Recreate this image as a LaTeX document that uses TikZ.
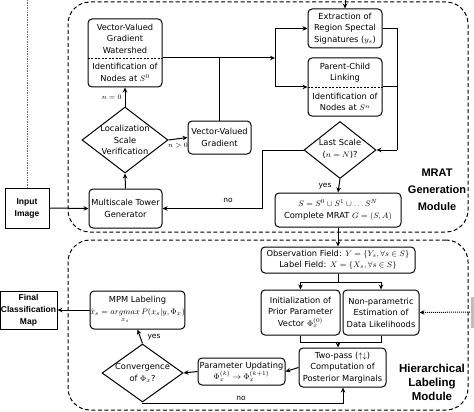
\documentclass[tikz,border=0pt]{standalone}
\usepackage{fontspec}
\setmainfont{DejaVu Sans}
\newfontfamily\hdfont{Liberation Sans}
\usetikzlibrary{shapes.geometric,arrows.meta,calc}
\begin{document}
\begin{tikzpicture}[x=1pt,y=-1pt,
  box/.style={draw, rounded corners=4pt, line width=1pt, align=center, inner sep=0pt, font=\fontsize{8.3}{11.5}\selectfont},
  sq/.style={draw, line width=1pt, align=center, inner sep=0pt, font=\hdfont\bfseries\fontsize{8.5}{12}\selectfont},
  txt/.style={align=center, inner sep=0pt, font=\fontsize{8.3}{11.5}\selectfont},
  dia/.style={draw, diamond, line width=1pt, inner sep=0pt},
  arr/.style={line width=1pt, -{Stealth[length=5pt,width=4.5pt]}},
  ln/.style={line width=1pt},
  divider/.style={line width=0.8pt, dash pattern=on 2pt off 1.5pt},
  module/.style={draw, line width=1pt, dash pattern=on 4pt off 2.5pt, rounded corners=22pt, inner sep=0pt},
  modlabel/.style={align=center, inner sep=0pt, font=\hdfont\bfseries\fontsize{11}{17}\selectfont},
  lbl/.style={inner sep=0pt, font=\fontsize{7.5}{9}\selectfont},
]
\useasboundingbox (0,0) rectangle (474,412);

% modules
\node[module, minimum width=400pt, minimum height=230pt] (mratmod) at (268,117) {};
\node[module, minimum width=400pt, minimum height=170pt] (hlmmod) at (268,325) {};

% ---- MRAT generation module
\node[box, minimum width=74pt, minimum height=68pt] (vvgw) at (125,53) {};
\coordinate (vd) at (125,58);
\draw[divider] (vvgw.west |- vd) -- (vvgw.east |- vd);
\node[txt] (vvgwa) at (125,38.5) {Vector-Valued\\Gradient\\Watershed};
\node[txt] (vvgwb) at (125,72.5) {Identification of\\Nodes at $S^0$};

\node[dia, minimum width=86pt, minimum height=66pt] (loc) at (125,140) {};
\node[txt] (loctxt) at (125,140) {Localization\\Scale\\Verification};

\node[box, minimum width=63pt, minimum height=33pt] (vvg) at (219.5,137.5) {Vector-Valued\\Gradient};
\node[box, minimum width=73pt, minimum height=39pt] (mtg) at (125.5,208.5) {Multiscale Tower\\Generator};
\node[sq, minimum width=44pt, minimum height=40pt] (input) at (27,208) {Input\\Image};

\node[box, minimum width=74pt, minimum height=39pt] (ext) at (345,28.5) {Extraction of\\Region Spectal\\Signatures ($y_s$)};
\node[box, minimum width=74pt, minimum height=58pt] (pcl) at (345,87) {};
\coordinate (pd) at (345,87);
\draw[divider] (pcl.west |- pd) -- (pcl.east |- pd);
\node[txt] (pcla) at (345,72.5) {Parent-Child\\Linking};
\node[txt] (pclb) at (345,102) {Identification of\\Nodes at $S^n$};

\node[dia, minimum width=72pt, minimum height=57pt] (last) at (340,150) {};
\node[txt] (lasttxt) at (340,149) {Last Scale\\($n=N$)?};

\node[box, minimum width=126pt, minimum height=34pt] (sbox) at (338,210) {$S=S^0\cup S^1\cup\ldots S^N$\\Complete MRAT $G=(S,A)$};

\node[modlabel] (mratlbl) at (437,190) {MRAT\\Generation\\Module};

% ---- Hierarchical labeling module
\node[box, minimum width=154pt, minimum height=26pt] (obs) at (338,260) {Observation Field: $Y=\{Y_s,\forall s\in S\}$\\Label Field: $X=\{X_s,\forall s\in S\}$};
\node[box, minimum width=79pt, minimum height=45pt] (init) at (300.5,312.5) {Initialization of\\Prior Parameter\\Vector $\Phi_x^{(0)}$};
\node[box, minimum width=76pt, minimum height=45pt] (nonp) at (381,312.5) {Non-parametric\\Estimation of\\Data Likelihoods};
\node[box, minimum width=87pt, minimum height=39pt] (twopass) at (342.5,367.5) {Two-pass ($\uparrow\downarrow$)\\Computation of\\Posterior Marginals};
\node[box, minimum width=87pt, minimum height=27pt] (param) at (241.5,371.5) {Parameter Updating\\$\Phi_x^{(k)}\rightarrow\Phi_x^{(k+1)}$};
\node[dia, minimum width=81pt, minimum height=58pt] (conv) at (142.5,373) {};
\node[txt] (convtxt) at (142.5,373) {Convergence\\of $\Phi_x$?};
\node[box, minimum width=91pt, minimum height=38pt] (mpm) at (137.5,310) {MPM Labeling\\$\hat{x}_s=\mathop{argmax}\limits_{x_s}P(x_s|y,\Phi_x)$};
\node[sq, minimum width=57pt, minimum height=38pt] (final) at (28.5,310) {Final\\Classification\\Map};

\node[modlabel, font=\hdfont\bfseries\fontsize{11.5}{14}\selectfont] (hlmlbl) at (432,382) {Hierarchical\\Labeling\\Module};

% ---- connectors
\coordinate (dtop) at (27,0);
\draw[line width=0.7pt, densely dotted, black!60] (dtop) -- (input.north);
\draw[arr] (input.east) -- (mtg.west);
\draw[arr] (mtg.north) -- (loc.south);
\draw[arr] (loc.north) -- node[lbl, left=3pt] (n0) {$n=0$} (vvgw.south);
\draw[arr] (loc.east) -- node[lbl, below=4pt] (n1) {$n>0$} (vvg.west);

\coordinate (j1) at (275,58);
\draw[arr] (vvgw.east |- vd) -- (j1);
\draw[ln] (vvg.north) -- (vvg.north |- vd);
\draw[ln] (j1 |- ext.west) -- (j1 |- pd);
\draw[arr] (j1 |- ext.west) -- (ext.west);
\draw[arr] (j1 |- pd) -- (pcl.west |- pd);

\coordinate (topin) at (345,0);
\draw[arr] (topin) -- (ext.north);

\coordinate (j2) at (397,150);
\draw[ln] (ext.east) -- (j2 |- ext.east) -- (j2);
\draw[ln] (pcl.east |- pd) -- (j2 |- pd);
\draw[arr] (j2) -- (last.east);

\coordinate (j3) at (262,150);
\draw[arr] (last.west) -- (j3) -- (j3 |- mtg.east) -- (mtg.east);
\node[lbl] (nolbl1) at (228,200) {no};

\draw[arr] (last.south) -- (sbox.north);
\node[lbl] (yes1) at (325,186) {yes};
\draw[arr] (sbox.south) -- (obs.north);

\coordinate (j4) at (338,282);
\draw[ln] (obs.south) -- (j4);
\draw[ln] (init.north |- j4) -- (nonp.north |- j4);
\draw[arr] (init.north |- j4) -- (init.north);
\draw[arr] (nonp.north |- j4) -- (nonp.north);

\coordinate (j5) at (338,342);
\draw[ln] (init.south) -- (init.south |- j5) -- (nonp.south |- j5) -- (nonp.south);
\draw[arr] (j5) -- (j5 |- twopass.north);

\draw[arr] (twopass.west) -- (param.east);
\draw[arr] (param.west) -- (conv.east);

\coordinate (j6) at (343,403);
\draw[arr] (conv.south) -- (conv.south |- j6) -- (j6) -- (j6 |- twopass.south);
\node[lbl] (nolbl2) at (241,398) {no};

\draw[arr] (conv.north) -- (mpm.south);
\node[lbl] (yes2) at (154,337) {yes};
\draw[arr] (mpm.west) -- (final.east);

\coordinate (rin) at (474,312);
\draw[arr, densely dotted] (rin) -- (nonp.east);
\fill[black!25] (471,297) rectangle (474,328);
\end{tikzpicture}
\end{document}
